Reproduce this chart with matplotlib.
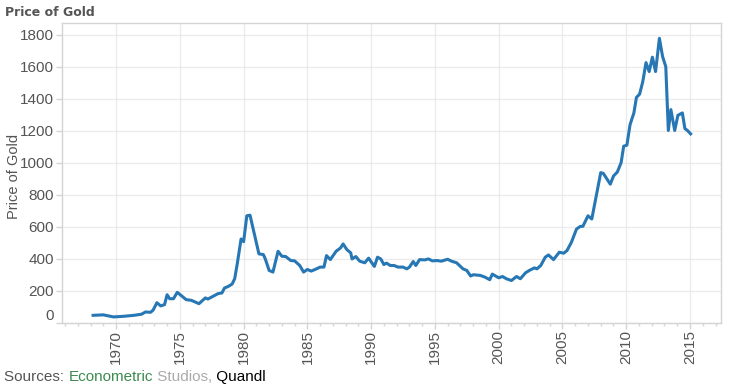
import matplotlib
matplotlib.use("Agg")
import matplotlib.pyplot as plt
from matplotlib.ticker import MultipleLocator

# gold price (year, USD)
years = [1968.2, 1969.0, 1969.8, 1970.6, 1971.4, 1972.0, 1972.3, 1972.7, 1972.9,
         1973.2, 1973.5, 1973.8, 1974.0, 1974.2, 1974.5, 1974.8, 1975.0, 1975.5,
         1975.9, 1976.5, 1977.0, 1977.2, 1977.6, 1978.0, 1978.3, 1978.5, 1978.8,
         1979.1, 1979.3, 1979.5, 1979.8, 1980.0, 1980.25, 1980.5, 1981.2, 1981.55,
         1981.7, 1982.0, 1982.3, 1982.7, 1983.0, 1983.3, 1983.7, 1984.0, 1984.4,
         1984.7, 1985.0, 1985.3, 1985.6, 1986.0, 1986.3, 1986.5, 1986.8, 1987.25,
         1987.6, 1987.8, 1988.1, 1988.4, 1988.5, 1988.8, 1989.1, 1989.5, 1989.8,
         1990.05, 1990.25, 1990.5, 1990.75, 1991.0, 1991.2, 1991.5, 1991.8, 1992.1,
         1992.5, 1992.8, 1993.0, 1993.3, 1993.5, 1993.8, 1994.2, 1994.5, 1994.8,
         1995.15, 1995.5, 1996.0, 1996.3, 1996.7, 1997.2, 1997.5, 1997.8, 1998.0,
         1998.55, 1998.9, 1999.3, 1999.5, 2000.0, 2000.3, 2000.6, 2001.0, 2001.4,
         2001.7, 2002.1, 2002.4, 2002.8, 2003.0, 2003.3, 2003.65, 2003.9, 2004.3,
         2004.75, 2005.1, 2005.35, 2005.7, 2006.1, 2006.4, 2006.6, 2007.0, 2007.3,
         2007.7, 2008.0, 2008.2, 2008.75, 2009.0, 2009.3, 2009.6, 2009.8, 2010.05,
         2010.3, 2010.6, 2010.8, 2011.05, 2011.3, 2011.55, 2011.8, 2012.05, 2012.3,
         2012.6, 2012.85, 2013.1, 2013.3, 2013.5, 2013.8, 2014.05, 2014.4, 2014.6,
         2014.8, 2015.05]
prices = [45, 48, 35, 39, 45, 52, 66, 64, 77,
          124, 104, 112, 174, 149, 149, 189, 176, 143,
          139, 118, 154, 147, 164, 181, 185, 216, 226,
          241, 274, 367, 523, 506, 668, 672, 430, 425,
          398, 326, 316, 446, 415, 413, 388, 386, 357,
          316, 332, 322, 332, 347, 347, 419, 394, 446,
          467, 492, 456, 436, 398, 413, 384, 374, 403,
          374, 351, 409, 398, 363, 372, 357, 357, 347,
          347, 336, 347, 382, 357, 394, 392, 398, 386,
          388, 384, 396, 384, 374, 336, 326, 291, 299,
          295, 285, 268, 303, 280, 288, 274, 263, 288,
          274, 311, 326, 342, 336, 357, 409, 423, 394,
          440, 434, 450, 502, 585, 602, 602, 668, 648,
          814, 938, 934, 866, 917, 942, 1001, 1104, 1110,
          1239, 1312, 1409, 1430, 1509, 1627, 1571, 1661, 1571,
          1779, 1665, 1602, 1202, 1333, 1202, 1297, 1312, 1214,
          1202, 1181]

x_ticks = list(range(1970, 2016, 5))
y_ticks = list(range(0, 1801, 200))

grid_col = "#ebebeb"
axis_col = "#d4d4d4"
text_col = "#555555"

fig = plt.figure(figsize=(7.3, 3.89), dpi=100)
ax = fig.add_axes([62 / 730, 1 - 323 / 389, (721 - 62) / 730, (323 - 23) / 389])

ax.plot(years, prices, color="#2677b4", linewidth=2.2, solid_joinstyle="round")

ax.set_xlim(1965.76, 2017.43)
ax.set_ylim(-3, 1875)
ax.set_xticks(x_ticks)
ax.set_yticks(y_ticks)
ax.xaxis.set_minor_locator(MultipleLocator(1))
ax.set_xticklabels([str(y) for y in x_ticks], rotation=90,
                   fontfamily="Liberation Sans", fontsize=11, color=text_col)
ax.set_yticklabels([str(v) for v in y_ticks],
                   fontfamily="Liberation Sans", fontsize=11, color=text_col)
ax.tick_params(axis="y", which="major", color=axis_col, length=4, width=1, pad=2)
ax.tick_params(axis="x", which="major", color=axis_col, length=4, width=1, pad=1)
ax.tick_params(axis="x", which="minor", color=axis_col, length=2, width=1)
ax.grid(True, color=grid_col, linewidth=1)
ax.set_axisbelow(True)
for sp in ax.spines.values():
    sp.set_color(axis_col)
    sp.set_linewidth(1)

# lift the zero label like the original does
ax.get_yticklabels()[0].set_verticalalignment("bottom")

fig.text(14 / 730, 1 - 176 / 389, "Price of Gold", rotation=90,
         fontfamily="Liberation Sans", fontsize=10.5, color=text_col,
         va="center", ha="center")

fig.text(5 / 730, 1 - 12 / 389, "Price of Gold", fontfamily="DejaVu Sans",
         fontweight="bold", fontsize=9, color=text_col, va="center", ha="left")

# sources line, coloured parts placed one after the other
parts = [("Sources: ", text_col), ("Econometric", "#3b8a4e"),
         (" Studios,", "#aaaaaa"), (" Quandl", "#000000")]
fig.canvas.draw()
renderer = fig.canvas.get_renderer()
x = 4
for s, c in parts:
    t = fig.text(x / 730, 1 - 377 / 389, s, fontfamily="Liberation Sans",
                 fontsize=11, color=c, va="center", ha="left")
    bb = t.get_window_extent(renderer=renderer)
    x += bb.width

fig.savefig("out.png", dpi=100)
